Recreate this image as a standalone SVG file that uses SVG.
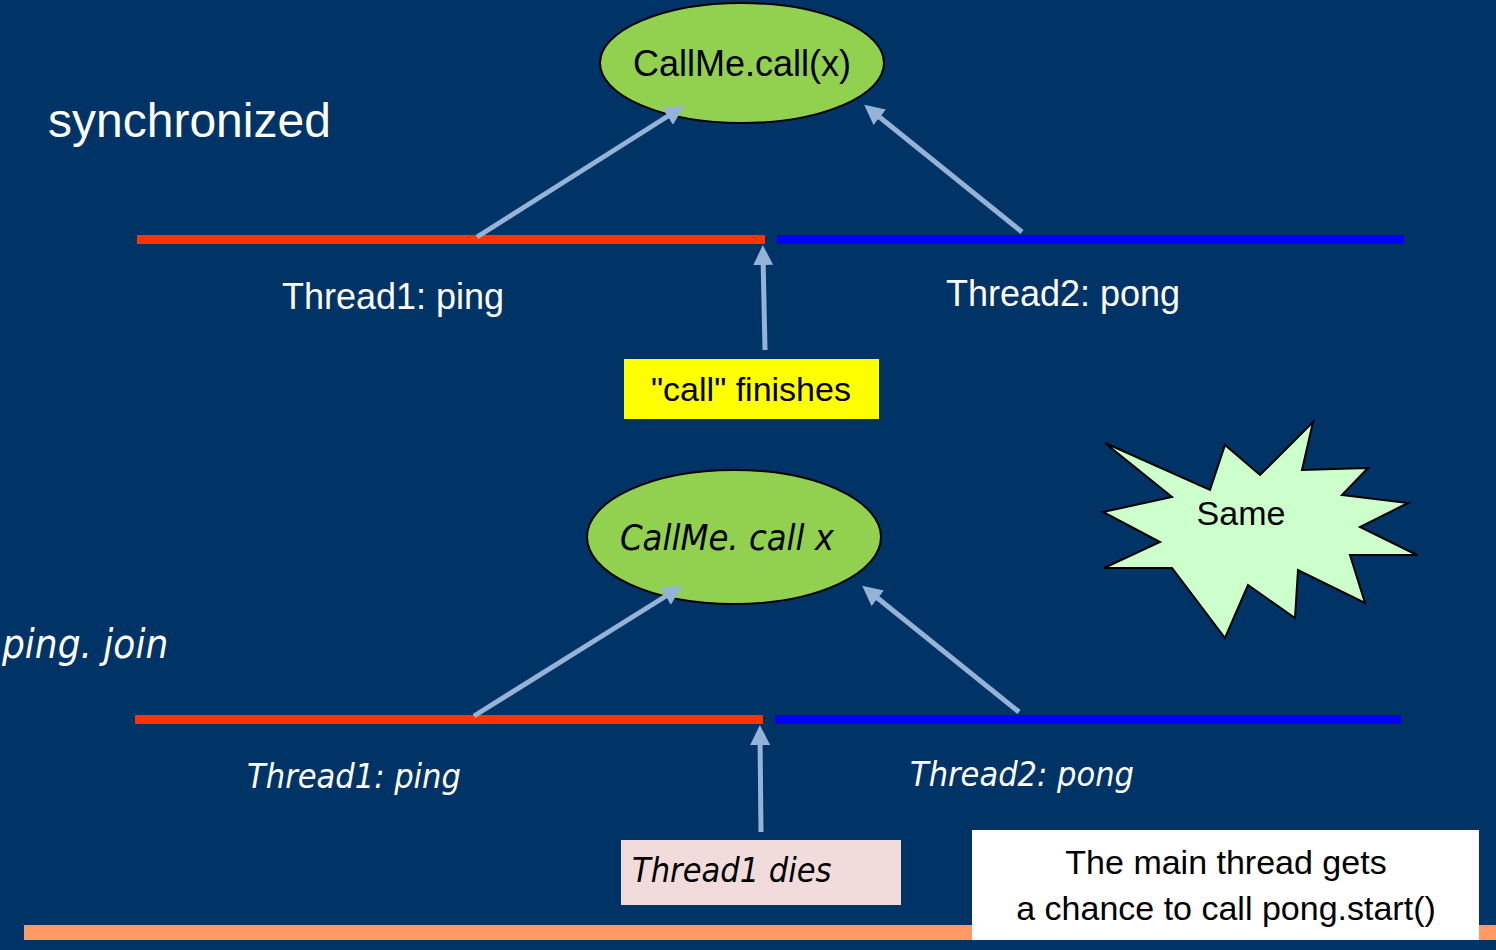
<svg xmlns="http://www.w3.org/2000/svg" width="1496" height="950" viewBox="0 0 1496 950">
<defs>
<marker id="ah" markerWidth="4" markerHeight="4" refX="2" refY="2" orient="auto"><path d="M0,0 L4,2 L0,4 z" fill="#95b3d7"/></marker>
<style>
.t{font-family:"Liberation Sans",Arial,sans-serif;}
.h{font-family:"DejaVu Sans Condensed","Liberation Sans Narrow",sans-serif;font-style:italic;}
.ar{stroke:#95b3d7;stroke-width:5;fill:none;marker-end:url(#ah);}
</style>
</defs>
<rect width="1496" height="950" fill="#003366"/>
<rect x="24" y="925" width="1472" height="15" fill="#ff9966"/>
<text class="t" x="48" y="137" font-size="48" fill="#fff">synchronized</text>
<g id="call1"><ellipse cx="742" cy="63" rx="142" ry="60" fill="#92d050" stroke="#000" stroke-width="2"/><text class="t" x="742" y="76" font-size="36" text-anchor="middle">CallMe.call(x)</text></g>
<g id="t1"><rect x="137" y="235" width="628" height="9" fill="#ff3300"/><text class="t" x="393" y="309" font-size="36" fill="#fff" text-anchor="middle">Thread1: ping</text></g>
<g id="t2"><rect x="777" y="235" width="627" height="9" fill="#0000ff"/><text class="t" x="1063" y="306" font-size="36" fill="#fff" text-anchor="middle">Thread2: pong</text></g>
<g id="fin"><rect x="624" y="359" width="255" height="60" fill="#ffff00"/><text class="t" x="751" y="401" font-size="34" text-anchor="middle">"call" finishes</text></g>
<g id="call2"><ellipse cx="734" cy="537" rx="147" ry="67" fill="#92d050" stroke="#000" stroke-width="2"/><text class="h" x="727" y="550" font-size="36" text-anchor="middle">CallMe. call  x</text></g>
<text class="h" x="2" y="658" font-size="40" fill="#fff">ping. join</text>
<g id="t3"><rect x="135" y="715" width="628" height="9" fill="#ff3300"/><text class="h" x="354" y="788" font-size="34" fill="#fff" text-anchor="middle">Thread1: ping</text></g>
<g id="t4"><rect x="775" y="715" width="626" height="9" fill="#0000ff"/><text class="h" x="1022" y="786" font-size="34" fill="#fff" text-anchor="middle">Thread2: pong</text></g>
<g id="dies"><rect x="621" y="840" width="280" height="65" fill="#f2dcdb"/><text class="h" x="632" y="882" font-size="34">Thread1 dies</text></g>
<g id="main"><rect x="972" y="830" width="507" height="110" fill="#fff"/><text class="t" x="1226" y="874" font-size="34" text-anchor="middle">The main thread gets</text><text class="t" x="1226" y="920" font-size="34" text-anchor="middle">a chance to call pong.start()</text></g>
<g id="same"><polygon points="1313,422 1260,475 1225,445 1210,490 1105,443 1172,497 1103,512 1160,542 1104,568 1172,568 1225,638 1248,585 1295,618 1298,570 1365,603 1350,555 1417,555 1360,527 1408,503 1342,495 1368,468 1302,470" fill="#ccffcc" stroke="#000" stroke-width="2"/><text class="t" x="1241" y="525" font-size="34" text-anchor="middle">Same</text></g>
<g id="connectors">
<line class="ar" x1="477" y1="237" x2="676" y2="111"/>
<line class="ar" x1="1022" y1="232" x2="872" y2="111"/>
<line class="ar" x1="765" y1="350" x2="763" y2="255"/>
<line class="ar" x1="474" y1="716" x2="674" y2="591"/>
<line class="ar" x1="1019" y1="712" x2="870" y2="592"/>
<line class="ar" x1="761" y1="832" x2="760" y2="735"/>
</g>
</svg>
